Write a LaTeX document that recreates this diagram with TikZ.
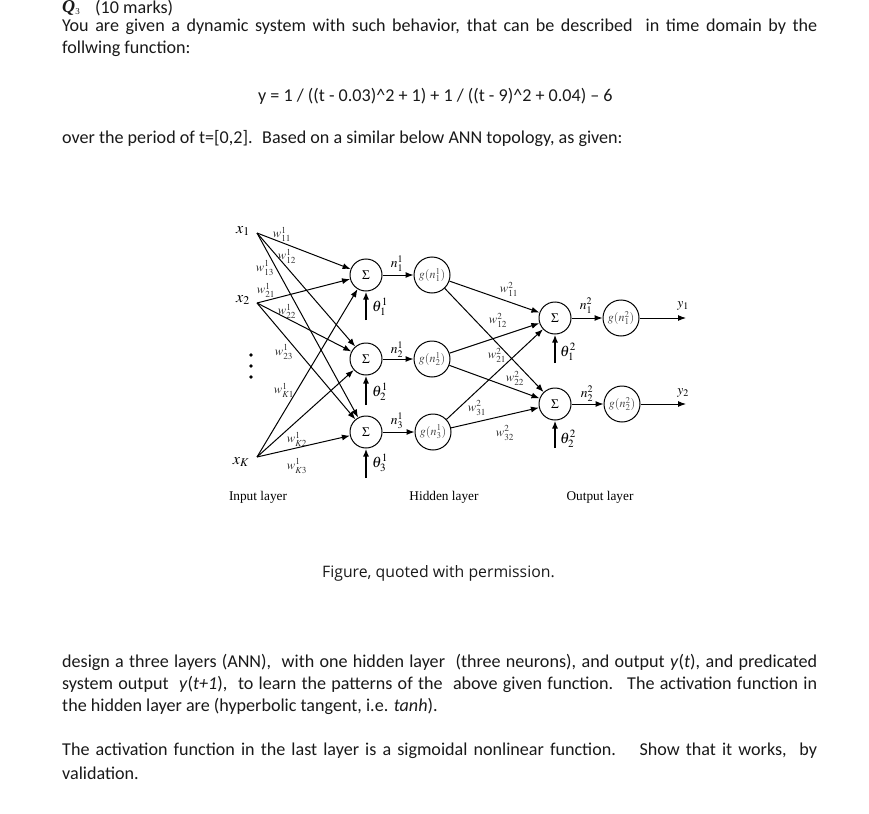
\documentclass[tikz,border=0pt]{standalone}
\usepackage{mathptmx}
\usepackage[no-math]{fontspec}
\setmainfont{Carlito}
\newfontfamily\tms{Liberation Serif}
\newfontfamily\capf{Open Sans}
\usetikzlibrary{arrows.meta}
\tikzset{
  body/.style={anchor=west, inner sep=0pt, text=black!90, font=\fontsize{18.1}{21}\selectfont},
  sumnode/.style={circle, draw, line width=1pt, minimum size=32pt, inner sep=0pt, font=\fontsize{13}{13}\selectfont},
  gnode/.style={circle, draw, line width=1pt, minimum size=36pt, inner sep=0pt, font=\fontsize{12}{12}\selectfont, text=black!70},
  conn/.style={line width=1pt, -{Latex[length=8pt,width=6pt]}},
  biasarr/.style={line width=1.8pt, -{Latex[length=8pt,width=6pt]}},
  wlab/.style={inner sep=0pt, font=\fontsize{12.5}{12.5}\selectfont, text=black!80},
  xlab/.style={inner sep=0pt, font=\fontsize{16}{16}\selectfont},
  nlab/.style={inner sep=0pt, font=\fontsize{13.5}{13.5}\selectfont},
  thlab/.style={inner sep=0pt, font=\fontsize{15}{15}\selectfont},
  laylab/.style={inner sep=0pt, font=\tms\fontsize{13.3}{14}\selectfont}
}
\begin{document}
\begin{tikzpicture}[x=1pt,y=-1pt]
\useasboundingbox (0,0) rectangle (869,813);
% ---- top text ----
\node[body] (q3) at (62,8) {{\tms\bfseries\itshape Q}{\tms\fontsize{9}{9}\selectfont\raisebox{-2pt}{3}}};
\node[body] (marks) at (95,8) {(10 marks)};
\node[body] (l1) at (62,27) {\hbox to 755pt{You are given a dynamic system with such behavior, that can be described \ in time domain by the}};
\node[body] (l2) at (62,49) {follwing function:};
\node[body] (f1) at (258,96) {y = 1 / ((t - 0.03)\^{}2 + 1) + 1 / ((t - 9)\^{}2 + 0.04) – 6};
\node[body] (l3) at (62,139) {over the period of t=[0,2]. \ Based on a similar below ANN topology, as given:};
% ---- figure ----
\node[xlab] (x1) at (243,231) {$x_1$};
\node[xlab] (x2) at (243,300) {$x_2$};
\node[xlab] (xK) at (241,462) {$x_K$};
\coordinate (i1) at (257,233);
\coordinate (i2) at (257,303);
\coordinate (iK) at (257,457);
\foreach \yy in {355,366,377} \fill (251,\yy) circle (1.8pt);

\node[sumnode] (s1) at (366,275) {$\Sigma$};
\node[sumnode] (s2) at (366,359) {$\Sigma$};
\node[sumnode] (s3) at (366,432) {$\Sigma$};
\node[gnode] (g1) at (432,275) {$g(n^1_1)$};
\node[gnode] (g2) at (432,359) {$g(n^1_2)$};
\node[gnode] (g3) at (433,432) {$g(n^1_3)$};
\node[sumnode] (o1) at (555,318) {$\Sigma$};
\node[sumnode] (o2) at (555,404) {$\Sigma$};
\node[gnode] (h1) at (621,318) {$g(n^2_1)$};
\node[gnode] (h2) at (622,404) {$g(n^2_2)$};
\coordinate (y1e) at (686,318);
\coordinate (y2e) at (686,404);
\coordinate (b1) at (366,320);
\coordinate (b2) at (366,405);
\coordinate (b3) at (366,478);
\coordinate (c1) at (555,363);
\coordinate (c2) at (555,448);

\foreach \i in {i1,i2,iK} \foreach \s in {s1,s2,s3} \draw[conn] (\i) -- (\s);
\draw[conn] (s1) -- (g1);
\draw[conn] (s2) -- (g2);
\draw[conn] (s3) -- (g3);
\foreach \g in {g1,g2,g3} \foreach \o in {o1,o2} \draw[conn] (\g) -- (\o);
\draw[conn] (o1) -- (h1);
\draw[conn] (o2) -- (h2);
\draw[conn] (h1) -- (y1e);
\draw[conn] (h2) -- (y2e);
\draw[biasarr] (b1) -- (s1);
\draw[biasarr] (b2) -- (s2);
\draw[biasarr] (b3) -- (s3);
\draw[biasarr] (c1) -- (o1);
\draw[biasarr] (c2) -- (o2);

% weight labels
\node[wlab] (w111) at (282,234) {$w^1_{11}$};
\node[wlab] (w112) at (287,256) {$w^1_{12}$};
\node[wlab] (w113) at (265,268) {$w^1_{13}$};
\node[wlab] (w121) at (266,290) {$w^1_{21}$};
\node[wlab] (w122) at (287,311) {$w^1_{22}$};
\node[wlab] (w123) at (284,352) {$w^1_{23}$};
\node[wlab] (w1K1) at (284,390) {$w^1_{K1}$};
\node[wlab] (w1K2) at (297,439) {$w^1_{K2}$};
\node[wlab] (w1K3) at (297,466) {$w^1_{K3}$};
\node[wlab] (w211) at (509,289) {$w^2_{11}$};
\node[wlab] (w212) at (498,320) {$w^2_{12}$};
\node[wlab] (w221) at (497,355) {$w^2_{21}$};
\node[wlab] (w222) at (515,378) {$w^2_{22}$};
\node[wlab] (w231) at (477,408) {$w^2_{31}$};
\node[wlab] (w232) at (505,433) {$w^2_{32}$};
% n labels
\node[nlab] (n11) at (397,264) {$n^1_1$};
\node[nlab] (n12) at (397,350) {$n^1_2$};
\node[nlab] (n13) at (397,421) {$n^1_3$};
\node[nlab] (n21) at (586,306) {$n^2_1$};
\node[nlab] (n22) at (587,394) {$n^2_2$};
\node[nlab] (y1) at (683,306) {$y_1$};
\node[nlab] (y2) at (683,393) {$y_2$};
% theta labels
\node[thlab] (t11) at (380,307) {$\theta^1_1$};
\node[thlab] (t12) at (380,392) {$\theta^1_2$};
\node[thlab] (t13) at (380,463) {$\theta^1_3$};
\node[thlab] (t21) at (568,352) {$\theta^2_1$};
\node[thlab] (t22) at (568,439) {$\theta^2_2$};
% layer labels
\node[laylab] (inl) at (258,497) {Input layer};
\node[laylab] (hidl) at (444,497) {Hidden layer};
\node[laylab] (outl) at (600,497) {Output layer};
% caption
\node[inner sep=0pt, anchor=west, text=black!90, font=\capf\fontsize{15.8}{18}\selectfont] (cap) at (322,573) {Figure, quoted with permission.};
% ---- bottom text ----
\node[body] (l4) at (62,662) {\hbox to 755pt{design a three layers (ANN), \ with one hidden layer \ (three neurons), and output \textit{y}(\textit{t}), and predicated}};
\node[body] (l5) at (62,684) {\hbox to 755pt{system output \ \textit{y}(\textit{t+1}), \ to learn the patterns of the \ above given function. \ The activation function in}};
\node[body] (l6) at (62,706) {the hidden layer are (hyperbolic tangent, i.e. \textit{tanh}).};
\node[body] (l7) at (62,751) {\hbox to 755pt{The activation function in the last layer is a sigmoidal nonlinear function. \ \ Show that it works, \ by}};
\node[body] (l8) at (62,773) {validation.};
\end{tikzpicture}
\end{document}
